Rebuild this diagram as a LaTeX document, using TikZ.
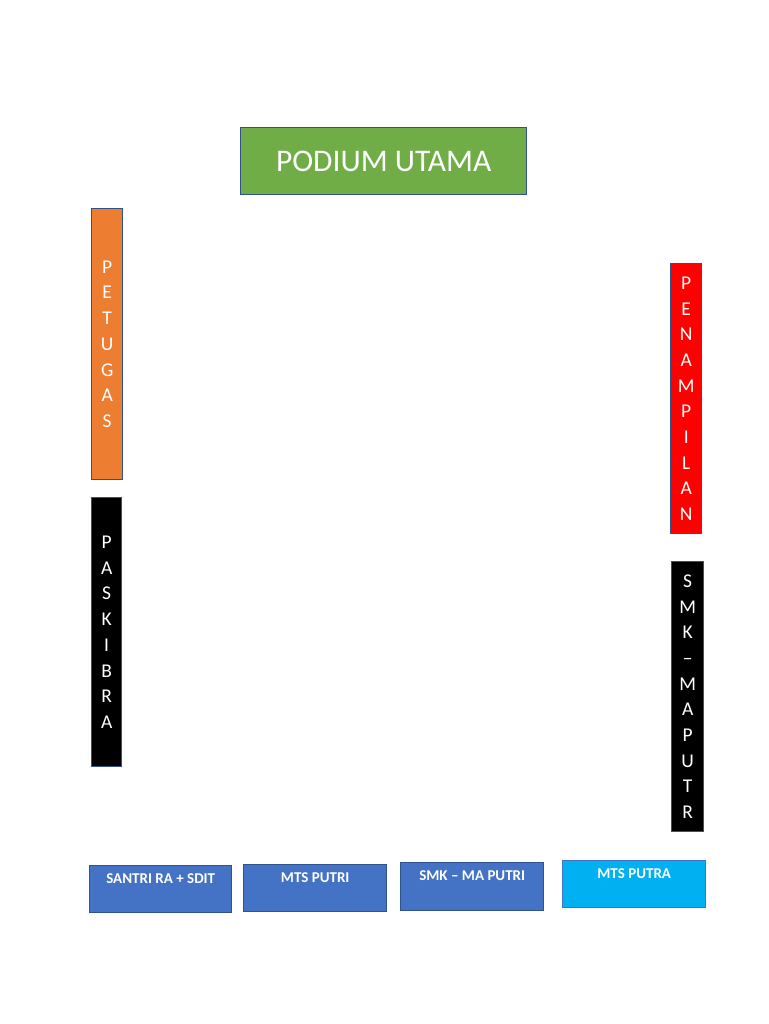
\documentclass[tikz,border=0pt]{standalone}
\usepackage{fontspec}
\setmainfont{Carlito}

\definecolor{podiumgreen}{HTML}{70AD47}
\definecolor{petugasorange}{HTML}{ED7D31}
\definecolor{seatblue}{HTML}{4472C4}
\definecolor{seatcyan}{HTML}{00B0F0}
\definecolor{boxline}{HTML}{2F528F}

\tikzset{
  box/.style={draw=boxline, line width=1.4pt, inner sep=0pt, anchor=north west},
  colword/.style={text=white, align=center, inner sep=0pt, font=\fontsize{19.5}{25.7}\selectfont},
  seattag/.style={text=white, inner sep=0pt, anchor=base, font=\bfseries\fontsize{15}{18}\selectfont},
}

\begin{document}
\begin{tikzpicture}[x=1pt,y=-1pt]
\useasboundingbox (0,0) rectangle (768,1024);

\node[box, fill=podiumgreen, minimum width=286pt, minimum height=67pt] (podium) at (240,127) {};
\node[text=white, font=\fontsize{31.5}{36}\selectfont] (podiumtext) at (podium.center) {PODIUM UTAMA};

\node[box, fill=petugasorange, minimum width=31pt, minimum height=271pt] (petugas) at (91,208) {};
\node[colword] (petugastext) at (petugas.center) {P\\E\\T\\U\\G\\A\\S};

\node[box, fill=black, minimum width=30pt, minimum height=269pt] (paskibra) at (91,497) {};
\node[colword] (paskibratext) at (paskibra.center) {P\\A\\S\\K\\I\\B\\R\\A};

\node[box, fill=red, minimum width=31pt, minimum height=270pt] (penampilan) at (670,263) {};
\node[colword] (penampilantext) at (penampilan.center) {P\\E\\N\\A\\M\\P\\I\\L\\A\\N};

\node[box, fill=black, minimum width=32pt, minimum height=270pt] (smkputra) at (671,561) {};
\node[colword] (smkputratext) at (smkputra.center) {S\\M\\K\\–\\M\\A\\P\\U\\T\\R};

\node[box, fill=seatblue, minimum width=142pt, minimum height=47pt] (santri) at (89,865) {};
\node[seattag] (santritext) at ([yshift=-18.5pt]santri.north) {SANTRI RA + SDIT};

\node[box, fill=seatblue, minimum width=143pt, minimum height=47pt] (mtsputri) at (243,864) {};
\node[seattag] (mtsputritext) at ([yshift=-18.5pt]mtsputri.north) {MTS PUTRI};

\node[box, fill=seatblue, minimum width=143pt, minimum height=48pt] (smkputri) at (400,862) {};
\node[seattag] (smkputritext) at ([yshift=-18.5pt]smkputri.north) {SMK – MA PUTRI};

\node[box, draw=seatblue, fill=seatcyan, minimum width=143pt, minimum height=47pt] (mtsputra) at (562,860) {};
\node[seattag] (mtsputratext) at ([yshift=-18.5pt]mtsputra.north) {MTS PUTRA};

\end{tikzpicture}
\end{document}
